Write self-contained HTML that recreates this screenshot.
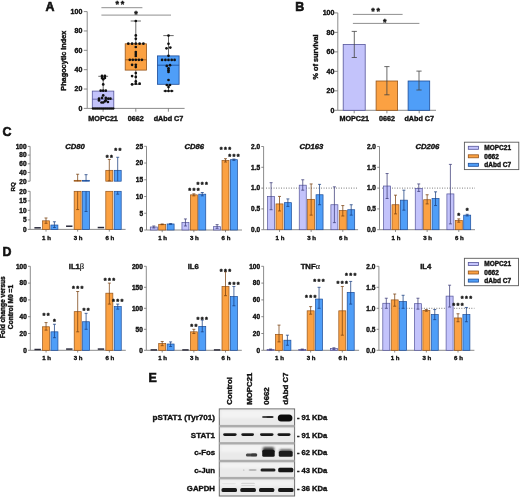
<!DOCTYPE html>
<html><head><meta charset="utf-8"><title>Figure</title>
<style>
html,body{margin:0;padding:0;background:#fff;}
body{width:520px;height:497px;overflow:hidden;}
svg{display:block;font-family:"Liberation Sans", Arial, sans-serif;}
text{stroke:#111;stroke-width:0.38px;}
</style></head><body>
<svg width="520" height="497" viewBox="0 0 520 497">
<rect width="520" height="497" fill="#fff"/>
<text x="45.6" y="10.6" font-size="12.4" text-anchor="start" font-weight="bold" fill="#111" style="stroke-width:0.6px">A</text>
<line x1="87.2" y1="11.6" x2="87.2" y2="108.4" stroke="#6e6e6e" stroke-width="0.8" />
<line x1="87.2" y1="108.4" x2="184.6" y2="108.4" stroke="#6e6e6e" stroke-width="0.8" />
<line x1="83.8" y1="108.4" x2="87.2" y2="108.4" stroke="#6e6e6e" stroke-width="0.8" />
<text x="82.3" y="110.7" font-size="7.0" text-anchor="end" font-weight="bold" fill="#111" >0</text>
<line x1="83.8" y1="89.04" x2="87.2" y2="89.04" stroke="#6e6e6e" stroke-width="0.8" />
<text x="82.3" y="91.34" font-size="7.0" text-anchor="end" font-weight="bold" fill="#111" >20</text>
<line x1="83.8" y1="69.68" x2="87.2" y2="69.68" stroke="#6e6e6e" stroke-width="0.8" />
<text x="82.3" y="71.98" font-size="7.0" text-anchor="end" font-weight="bold" fill="#111" >40</text>
<line x1="83.8" y1="50.32" x2="87.2" y2="50.32" stroke="#6e6e6e" stroke-width="0.8" />
<text x="82.3" y="52.62" font-size="7.0" text-anchor="end" font-weight="bold" fill="#111" >60</text>
<line x1="83.8" y1="30.96" x2="87.2" y2="30.96" stroke="#6e6e6e" stroke-width="0.8" />
<text x="82.3" y="33.26" font-size="7.0" text-anchor="end" font-weight="bold" fill="#111" >80</text>
<line x1="83.8" y1="11.6" x2="87.2" y2="11.6" stroke="#6e6e6e" stroke-width="0.8" />
<text x="82.3" y="13.9" font-size="7.0" text-anchor="end" font-weight="bold" fill="#111" >100</text>
<text transform="translate(66.2,60.7) rotate(-90)" font-size="7.3" text-anchor="middle" font-weight="bold" fill="#111">Phagocytic index</text>
<line x1="103.1" y1="108.4" x2="103.1" y2="111.7" stroke="#6e6e6e" stroke-width="0.8" />
<line x1="135.8" y1="108.4" x2="135.8" y2="111.7" stroke="#6e6e6e" stroke-width="0.8" />
<line x1="168.4" y1="108.4" x2="168.4" y2="111.7" stroke="#6e6e6e" stroke-width="0.8" />
<text x="103.1" y="120.8" font-size="7.2" text-anchor="middle" font-weight="bold" fill="#111" >MOPC21</text>
<text x="135.8" y="120.8" font-size="7.2" text-anchor="middle" font-weight="bold" fill="#111" >0662</text>
<text x="168.5" y="120.8" font-size="7.2" text-anchor="middle" font-weight="bold" fill="#111" >dAbd C7</text>
<line x1="101.4" y1="7.7" x2="142.4" y2="7.7" stroke="#7c7c7c" stroke-width="0.85" />
<line x1="101.4" y1="15.1" x2="171" y2="15.1" stroke="#7c7c7c" stroke-width="0.85" />
<text x="117.3" y="7.26" font-size="9.0" text-anchor="middle" font-weight="bold" fill="#111">*</text>
<text x="122.6" y="7.26" font-size="9.0" text-anchor="middle" font-weight="bold" fill="#111">*</text>
<text x="136.1" y="16.86" font-size="9.0" text-anchor="middle" font-weight="bold" fill="#111">*</text>
<line x1="103.2" y1="76.3" x2="103.2" y2="91.1" stroke="#444" stroke-width="0.8" />
<line x1="103.2" y1="108.4" x2="103.2" y2="108.4" stroke="#444" stroke-width="0.8" />
<line x1="98.3" y1="76.3" x2="108.1" y2="76.3" stroke="#444" stroke-width="0.8" />
<line x1="98.3" y1="108.4" x2="108.1" y2="108.4" stroke="#444" stroke-width="0.8" />
<rect x="92.3" y="91.1" width="21.5" height="17.3" fill="#c3c3fb" stroke="#55559a" stroke-width="0.8" />
<line x1="92.3" y1="99.2" x2="113.8" y2="99.2" stroke="#55559a" stroke-width="0.8" />
<circle cx="102" cy="75.9" r="1.35" fill="#111"/>
<circle cx="104.9" cy="75.9" r="1.35" fill="#111"/>
<circle cx="102" cy="78" r="1.35" fill="#111"/>
<circle cx="104.9" cy="78" r="1.35" fill="#111"/>
<circle cx="103.2" cy="79.3" r="1.35" fill="#111"/>
<circle cx="103.2" cy="84.4" r="1.35" fill="#111"/>
<circle cx="100.7" cy="90.7" r="1.35" fill="#111"/>
<circle cx="103.2" cy="90.7" r="1.35" fill="#111"/>
<circle cx="105.8" cy="90.7" r="1.35" fill="#111"/>
<circle cx="103.2" cy="95.4" r="1.35" fill="#111"/>
<circle cx="99" cy="98.7" r="1.35" fill="#111"/>
<circle cx="99" cy="100.4" r="1.35" fill="#111"/>
<circle cx="102" cy="97.9" r="1.35" fill="#111"/>
<circle cx="105.8" cy="97.9" r="1.35" fill="#111"/>
<circle cx="108.3" cy="98.7" r="1.35" fill="#111"/>
<circle cx="110.4" cy="98.7" r="1.35" fill="#111"/>
<circle cx="104.9" cy="101.3" r="1.35" fill="#111"/>
<circle cx="101.5" cy="102.5" r="1.35" fill="#111"/>
<circle cx="103.2" cy="102.5" r="1.35" fill="#111"/>
<circle cx="107.9" cy="102" r="1.35" fill="#111"/>
<circle cx="105.8" cy="100.4" r="1.35" fill="#111"/>
<circle cx="93.1" cy="108.5" r="1.35" fill="#111"/>
<circle cx="95.1" cy="108.5" r="1.35" fill="#111"/>
<circle cx="97.1" cy="108.5" r="1.35" fill="#111"/>
<circle cx="99.1" cy="108.5" r="1.35" fill="#111"/>
<circle cx="101.1" cy="108.5" r="1.35" fill="#111"/>
<circle cx="103.1" cy="108.5" r="1.35" fill="#111"/>
<circle cx="105.1" cy="108.5" r="1.35" fill="#111"/>
<circle cx="107.1" cy="108.5" r="1.35" fill="#111"/>
<circle cx="109.1" cy="108.5" r="1.35" fill="#111"/>
<circle cx="111.1" cy="108.5" r="1.35" fill="#111"/>
<circle cx="113.1" cy="108.5" r="1.35" fill="#111"/>
<line x1="135.8" y1="21" x2="135.8" y2="43.8" stroke="#444" stroke-width="0.8" />
<line x1="135.8" y1="70.1" x2="135.8" y2="84.3" stroke="#444" stroke-width="0.8" />
<line x1="130.7" y1="21" x2="140.9" y2="21" stroke="#444" stroke-width="0.8" />
<line x1="130.7" y1="84.3" x2="140.9" y2="84.3" stroke="#444" stroke-width="0.8" />
<rect x="125.2" y="43.8" width="21.3" height="26.3" fill="#fba142" stroke="#95541a" stroke-width="0.8" />
<line x1="125.2" y1="59.8" x2="146.5" y2="59.8" stroke="#95541a" stroke-width="0.8" />
<circle cx="135.8" cy="21" r="1.35" fill="#111"/>
<circle cx="135.8" cy="35.4" r="1.35" fill="#111"/>
<circle cx="135.8" cy="38.8" r="1.35" fill="#111"/>
<circle cx="128.3" cy="43.7" r="1.35" fill="#111"/>
<circle cx="132.1" cy="43.7" r="1.35" fill="#111"/>
<circle cx="135.8" cy="43.7" r="1.35" fill="#111"/>
<circle cx="139.6" cy="43.7" r="1.35" fill="#111"/>
<circle cx="143.4" cy="43.7" r="1.35" fill="#111"/>
<circle cx="135.8" cy="47" r="1.35" fill="#111"/>
<circle cx="135.8" cy="52" r="1.35" fill="#111"/>
<circle cx="135.8" cy="54" r="1.35" fill="#111"/>
<circle cx="135.8" cy="56" r="1.35" fill="#111"/>
<circle cx="129.8" cy="59.8" r="1.35" fill="#111"/>
<circle cx="132.8" cy="59.8" r="1.35" fill="#111"/>
<circle cx="135.8" cy="59.8" r="1.35" fill="#111"/>
<circle cx="138.9" cy="59.8" r="1.35" fill="#111"/>
<circle cx="141.9" cy="59.8" r="1.35" fill="#111"/>
<circle cx="132.1" cy="64.8" r="1.35" fill="#111"/>
<circle cx="135.8" cy="64.8" r="1.35" fill="#111"/>
<circle cx="135.8" cy="67.1" r="1.35" fill="#111"/>
<circle cx="135.8" cy="73.1" r="1.35" fill="#111"/>
<circle cx="132.1" cy="76.1" r="1.35" fill="#111"/>
<circle cx="135.8" cy="76.9" r="1.35" fill="#111"/>
<circle cx="135.8" cy="81.4" r="1.35" fill="#111"/>
<circle cx="132.1" cy="84.4" r="1.35" fill="#111"/>
<circle cx="135.8" cy="83.7" r="1.35" fill="#111"/>
<circle cx="139.6" cy="83.7" r="1.35" fill="#111"/>
<line x1="168.5" y1="35.6" x2="168.5" y2="55.9" stroke="#444" stroke-width="0.8" />
<line x1="168.5" y1="84.3" x2="168.5" y2="91" stroke="#444" stroke-width="0.8" />
<line x1="163.3" y1="35.6" x2="173.7" y2="35.6" stroke="#444" stroke-width="0.8" />
<line x1="163.3" y1="91" x2="173.7" y2="91" stroke="#444" stroke-width="0.8" />
<rect x="157.4" y="55.9" width="21.7" height="28.4" fill="#4f9ef8" stroke="#1c4c98" stroke-width="0.8" />
<line x1="157.4" y1="65.2" x2="179.1" y2="65.2" stroke="#1c4c98" stroke-width="0.8" />
<circle cx="168.5" cy="35.6" r="1.35" fill="#111"/>
<circle cx="168.5" cy="43.8" r="1.35" fill="#111"/>
<circle cx="166.5" cy="48.3" r="1.35" fill="#111"/>
<circle cx="170.3" cy="47.6" r="1.35" fill="#111"/>
<circle cx="168.5" cy="55.8" r="1.35" fill="#111"/>
<circle cx="162.1" cy="59.9" r="1.35" fill="#111"/>
<circle cx="165.4" cy="59.9" r="1.35" fill="#111"/>
<circle cx="168.5" cy="59.9" r="1.35" fill="#111"/>
<circle cx="171.7" cy="59.9" r="1.35" fill="#111"/>
<circle cx="174.6" cy="59.9" r="1.35" fill="#111"/>
<circle cx="166.8" cy="65.9" r="1.35" fill="#111"/>
<circle cx="170" cy="65.2" r="1.35" fill="#111"/>
<circle cx="168.5" cy="68.3" r="1.35" fill="#111"/>
<circle cx="168.5" cy="70.2" r="1.35" fill="#111"/>
<circle cx="168.5" cy="71.9" r="1.35" fill="#111"/>
<circle cx="168.5" cy="80" r="1.35" fill="#111"/>
<circle cx="166.8" cy="85" r="1.35" fill="#111"/>
<circle cx="170" cy="85" r="1.35" fill="#111"/>
<circle cx="168.5" cy="87.1" r="1.35" fill="#111"/>
<circle cx="165.4" cy="91" r="1.35" fill="#111"/>
<circle cx="168.5" cy="91" r="1.35" fill="#111"/>
<circle cx="171.7" cy="91" r="1.35" fill="#111"/>
<text x="295.3" y="10.6" font-size="12.4" text-anchor="start" font-weight="bold" fill="#111" style="stroke-width:0.6px">B</text>
<line x1="337.8" y1="12.9" x2="337.8" y2="110.3" stroke="#6e6e6e" stroke-width="0.8" />
<line x1="337.8" y1="110.3" x2="436" y2="110.3" stroke="#6e6e6e" stroke-width="0.8" />
<line x1="334.4" y1="110.3" x2="337.8" y2="110.3" stroke="#6e6e6e" stroke-width="0.8" />
<text x="334.4" y="112.6" font-size="7.0" text-anchor="end" font-weight="bold" fill="#111" >0</text>
<line x1="334.4" y1="90.82" x2="337.8" y2="90.82" stroke="#6e6e6e" stroke-width="0.8" />
<text x="334.4" y="93.12" font-size="7.0" text-anchor="end" font-weight="bold" fill="#111" >20</text>
<line x1="334.4" y1="71.34" x2="337.8" y2="71.34" stroke="#6e6e6e" stroke-width="0.8" />
<text x="334.4" y="73.64" font-size="7.0" text-anchor="end" font-weight="bold" fill="#111" >40</text>
<line x1="334.4" y1="51.86" x2="337.8" y2="51.86" stroke="#6e6e6e" stroke-width="0.8" />
<text x="334.4" y="54.16" font-size="7.0" text-anchor="end" font-weight="bold" fill="#111" >60</text>
<line x1="334.4" y1="32.38" x2="337.8" y2="32.38" stroke="#6e6e6e" stroke-width="0.8" />
<text x="334.4" y="34.68" font-size="7.0" text-anchor="end" font-weight="bold" fill="#111" >80</text>
<line x1="334.4" y1="12.9" x2="337.8" y2="12.9" stroke="#6e6e6e" stroke-width="0.8" />
<text x="334.4" y="15.2" font-size="7.0" text-anchor="end" font-weight="bold" fill="#111" >100</text>
<text transform="translate(318,56.9) rotate(-90)" font-size="7.3" text-anchor="middle" font-weight="bold" fill="#111">% of survival</text>
<line x1="354.2" y1="110.3" x2="354.2" y2="113.3" stroke="#6e6e6e" stroke-width="0.8" />
<line x1="386.9" y1="110.3" x2="386.9" y2="113.3" stroke="#6e6e6e" stroke-width="0.8" />
<line x1="419.2" y1="110.3" x2="419.2" y2="113.3" stroke="#6e6e6e" stroke-width="0.8" />
<text x="354.2" y="121.3" font-size="7.2" text-anchor="middle" font-weight="bold" fill="#111" >MOPC21</text>
<text x="386.9" y="121.3" font-size="7.2" text-anchor="middle" font-weight="bold" fill="#111" >0662</text>
<text x="419.2" y="121.3" font-size="7.2" text-anchor="middle" font-weight="bold" fill="#111" >dAbd C7</text>
<line x1="352.9" y1="14.4" x2="402.6" y2="14.4" stroke="#7c7c7c" stroke-width="0.85" />
<line x1="352.9" y1="23.4" x2="419.4" y2="23.4" stroke="#7c7c7c" stroke-width="0.85" />
<text x="373.1" y="13.76" font-size="9.0" text-anchor="middle" font-weight="bold" fill="#111">*</text>
<text x="378.3" y="13.76" font-size="9.0" text-anchor="middle" font-weight="bold" fill="#111">*</text>
<text x="384.8" y="24.76" font-size="9.0" text-anchor="middle" font-weight="bold" fill="#111">*</text>
<rect x="343.2" y="44.4" width="22" height="65.9" fill="#c3c3fb" stroke="#55559a" stroke-width="0.8" />
<line x1="354.3" y1="31.4" x2="354.3" y2="57.5" stroke="#444" stroke-width="0.8" />
<line x1="351.7" y1="31.4" x2="356.9" y2="31.4" stroke="#444" stroke-width="0.8" />
<line x1="351.7" y1="57.5" x2="356.9" y2="57.5" stroke="#444" stroke-width="0.8" />
<rect x="376.1" y="81" width="21.5" height="29.3" fill="#fba142" stroke="#95541a" stroke-width="0.8" />
<line x1="386.9" y1="66.6" x2="386.9" y2="94.8" stroke="#444" stroke-width="0.8" />
<line x1="384.3" y1="66.6" x2="389.5" y2="66.6" stroke="#444" stroke-width="0.8" />
<line x1="384.3" y1="94.8" x2="389.5" y2="94.8" stroke="#444" stroke-width="0.8" />
<rect x="408.1" y="81" width="21.6" height="29.3" fill="#4f9ef8" stroke="#1c4c98" stroke-width="0.8" />
<line x1="419" y1="71.1" x2="419" y2="90" stroke="#444" stroke-width="0.8" />
<line x1="416.4" y1="71.1" x2="421.6" y2="71.1" stroke="#444" stroke-width="0.8" />
<line x1="416.4" y1="90" x2="421.6" y2="90" stroke="#444" stroke-width="0.8" />
<text x="2.4" y="136.3" font-size="12.4" text-anchor="start" font-weight="bold" fill="#111" style="stroke-width:0.6px">C</text>
<text transform="translate(15.2,186.8) rotate(-90)" font-size="6.2" text-anchor="middle" font-weight="bold" fill="#111">RQ</text>
<line x1="30.1" y1="146.4" x2="30.1" y2="181.2" stroke="#6e6e6e" stroke-width="0.8" />
<line x1="30.1" y1="191.3" x2="30.1" y2="229.4" stroke="#6e6e6e" stroke-width="0.8" />
<line x1="30.1" y1="229.4" x2="125.6" y2="229.4" stroke="#6e6e6e" stroke-width="0.8" />
<line x1="27.8" y1="229.4" x2="30.1" y2="229.4" stroke="#6e6e6e" stroke-width="0.8" />
<text x="26.6" y="231.7" font-size="6.5" text-anchor="end" font-weight="bold" fill="#111" >0</text>
<line x1="27.8" y1="219.88" x2="30.1" y2="219.88" stroke="#6e6e6e" stroke-width="0.8" />
<text x="26.6" y="222.18" font-size="6.5" text-anchor="end" font-weight="bold" fill="#111" >5</text>
<line x1="27.8" y1="210.35" x2="30.1" y2="210.35" stroke="#6e6e6e" stroke-width="0.8" />
<text x="26.6" y="212.65" font-size="6.5" text-anchor="end" font-weight="bold" fill="#111" >10</text>
<line x1="27.8" y1="200.83" x2="30.1" y2="200.83" stroke="#6e6e6e" stroke-width="0.8" />
<text x="26.6" y="203.13" font-size="6.5" text-anchor="end" font-weight="bold" fill="#111" >15</text>
<line x1="27.8" y1="191.3" x2="30.1" y2="191.3" stroke="#6e6e6e" stroke-width="0.8" />
<text x="26.6" y="193.6" font-size="6.5" text-anchor="end" font-weight="bold" fill="#111" >20</text>
<line x1="46" y1="229.4" x2="46" y2="231.6" stroke="#6e6e6e" stroke-width="0.8" />
<text x="46.5" y="239.7" font-size="6.1" text-anchor="middle" font-weight="bold" fill="#111" >1 h</text>
<rect x="34.4" y="227.08" width="6.4" height="1.5" fill="#2a2a3a" />
<rect x="42.5" y="220.83" width="7" height="8.57" fill="#fba142" stroke="#95541a" stroke-width="0.7" />
<line x1="46" y1="223.3" x2="46" y2="217.97" stroke="#7a4210" stroke-width="0.75" />
<line x1="44.5" y1="217.97" x2="47.5" y2="217.97" stroke="#7a4210" stroke-width="0.75" />
<line x1="44.5" y1="223.3" x2="47.5" y2="223.3" stroke="#7a4210" stroke-width="0.75" />
<rect x="50.9" y="225.02" width="7" height="4.38" fill="#4f9ef8" stroke="#1c4c98" stroke-width="0.7" />
<line x1="54.4" y1="227.5" x2="54.4" y2="221.78" stroke="#1a3f80" stroke-width="0.75" />
<line x1="52.9" y1="221.78" x2="55.9" y2="221.78" stroke="#1a3f80" stroke-width="0.75" />
<line x1="52.9" y1="227.5" x2="55.9" y2="227.5" stroke="#1a3f80" stroke-width="0.75" />
<line x1="77.65" y1="229.4" x2="77.65" y2="231.6" stroke="#6e6e6e" stroke-width="0.8" />
<text x="78.15" y="239.7" font-size="6.1" text-anchor="middle" font-weight="bold" fill="#111" >3 h</text>
<rect x="66.05" y="225.46" width="6.4" height="1.5" fill="#2a2a3a" />
<rect x="74.15" y="191.3" width="7" height="38.1" fill="#fba142" stroke="#95541a" stroke-width="0.7" />
<rect x="74.15" y="180.33" width="7" height="0.87" fill="#fba142" stroke="#95541a" stroke-width="0.7" />
<line x1="77.65" y1="209.59" x2="77.65" y2="191.3" stroke="#7a4210" stroke-width="0.75" />
<line x1="77.65" y1="181.2" x2="77.65" y2="174.24" stroke="#7a4210" stroke-width="0.75" />
<line x1="76.15" y1="174.24" x2="79.15" y2="174.24" stroke="#7a4210" stroke-width="0.75" />
<line x1="76.15" y1="209.59" x2="79.15" y2="209.59" stroke="#7a4210" stroke-width="0.75" />
<rect x="82.55" y="191.3" width="7" height="38.1" fill="#4f9ef8" stroke="#1c4c98" stroke-width="0.7" />
<rect x="82.55" y="180.33" width="7" height="0.87" fill="#4f9ef8" stroke="#1c4c98" stroke-width="0.7" />
<line x1="86.05" y1="211.49" x2="86.05" y2="191.3" stroke="#1a3f80" stroke-width="0.75" />
<line x1="86.05" y1="181.2" x2="86.05" y2="174.67" stroke="#1a3f80" stroke-width="0.75" />
<line x1="84.55" y1="174.67" x2="87.55" y2="174.67" stroke="#1a3f80" stroke-width="0.75" />
<line x1="84.55" y1="211.49" x2="87.55" y2="211.49" stroke="#1a3f80" stroke-width="0.75" />
<line x1="109.3" y1="229.4" x2="109.3" y2="231.6" stroke="#6e6e6e" stroke-width="0.8" />
<text x="109.8" y="239.7" font-size="6.1" text-anchor="middle" font-weight="bold" fill="#111" >6 h</text>
<rect x="97.7" y="226.8" width="6.4" height="1.5" fill="#2a2a3a" />
<rect x="105.8" y="191.3" width="7" height="38.1" fill="#fba142" stroke="#95541a" stroke-width="0.7" />
<rect x="105.8" y="170.32" width="7" height="10.87" fill="#fba142" stroke="#95541a" stroke-width="0.7" />
<line x1="109.3" y1="180.76" x2="109.3" y2="159.45" stroke="#7a4210" stroke-width="0.75" />
<line x1="107.8" y1="159.45" x2="110.8" y2="159.45" stroke="#7a4210" stroke-width="0.75" />
<line x1="107.8" y1="180.76" x2="110.8" y2="180.76" stroke="#7a4210" stroke-width="0.75" />
<rect x="114.2" y="191.3" width="7" height="38.1" fill="#4f9ef8" stroke="#1c4c98" stroke-width="0.7" />
<rect x="114.2" y="170.32" width="7" height="10.87" fill="#4f9ef8" stroke="#1c4c98" stroke-width="0.7" />
<line x1="117.7" y1="194.16" x2="117.7" y2="191.3" stroke="#1a3f80" stroke-width="0.75" />
<line x1="117.7" y1="181.2" x2="117.7" y2="157.28" stroke="#1a3f80" stroke-width="0.75" />
<line x1="116.2" y1="157.28" x2="119.2" y2="157.28" stroke="#1a3f80" stroke-width="0.75" />
<line x1="116.2" y1="194.16" x2="119.2" y2="194.16" stroke="#1a3f80" stroke-width="0.75" />
<text x="107.17" y="159.75" font-size="7.4" text-anchor="middle" font-weight="bold" fill="#111">*</text>
<text x="111.42" y="159.75" font-size="7.4" text-anchor="middle" font-weight="bold" fill="#111">*</text>
<text x="115.58" y="153.25" font-size="7.4" text-anchor="middle" font-weight="bold" fill="#111">*</text>
<text x="119.83" y="153.25" font-size="7.4" text-anchor="middle" font-weight="bold" fill="#111">*</text>
<text x="75" y="148.6" font-size="7.7" text-anchor="middle" font-weight="bold" font-style="italic" fill="#111" >CD80</text>
<line x1="27.8" y1="181.2" x2="30.1" y2="181.2" stroke="#6e6e6e" stroke-width="0.8" />
<text x="26.6" y="183.5" font-size="6.5" text-anchor="end" font-weight="bold" fill="#111" >20</text>
<line x1="27.8" y1="172.5" x2="30.1" y2="172.5" stroke="#6e6e6e" stroke-width="0.8" />
<text x="26.6" y="174.8" font-size="6.5" text-anchor="end" font-weight="bold" fill="#111" >40</text>
<line x1="27.8" y1="163.8" x2="30.1" y2="163.8" stroke="#6e6e6e" stroke-width="0.8" />
<text x="26.6" y="166.1" font-size="6.5" text-anchor="end" font-weight="bold" fill="#111" >60</text>
<line x1="27.8" y1="155.1" x2="30.1" y2="155.1" stroke="#6e6e6e" stroke-width="0.8" />
<text x="26.6" y="157.4" font-size="6.5" text-anchor="end" font-weight="bold" fill="#111" >80</text>
<line x1="27.8" y1="146.4" x2="30.1" y2="146.4" stroke="#6e6e6e" stroke-width="0.8" />
<text x="26.6" y="148.7" font-size="6.5" text-anchor="end" font-weight="bold" fill="#111" >100</text>
<line x1="146.5" y1="146.3" x2="146.5" y2="230" stroke="#6e6e6e" stroke-width="0.8" />
<line x1="146.5" y1="230" x2="242" y2="230" stroke="#6e6e6e" stroke-width="0.8" />
<line x1="144.2" y1="230" x2="146.5" y2="230" stroke="#6e6e6e" stroke-width="0.8" />
<text x="143" y="232.3" font-size="6.5" text-anchor="end" font-weight="bold" fill="#111" >0</text>
<line x1="144.2" y1="213.26" x2="146.5" y2="213.26" stroke="#6e6e6e" stroke-width="0.8" />
<text x="143" y="215.56" font-size="6.5" text-anchor="end" font-weight="bold" fill="#111" >5</text>
<line x1="144.2" y1="196.52" x2="146.5" y2="196.52" stroke="#6e6e6e" stroke-width="0.8" />
<text x="143" y="198.82" font-size="6.5" text-anchor="end" font-weight="bold" fill="#111" >10</text>
<line x1="144.2" y1="179.78" x2="146.5" y2="179.78" stroke="#6e6e6e" stroke-width="0.8" />
<text x="143" y="182.08" font-size="6.5" text-anchor="end" font-weight="bold" fill="#111" >15</text>
<line x1="144.2" y1="163.04" x2="146.5" y2="163.04" stroke="#6e6e6e" stroke-width="0.8" />
<text x="143" y="165.34" font-size="6.5" text-anchor="end" font-weight="bold" fill="#111" >20</text>
<line x1="144.2" y1="146.3" x2="146.5" y2="146.3" stroke="#6e6e6e" stroke-width="0.8" />
<text x="143" y="148.6" font-size="6.5" text-anchor="end" font-weight="bold" fill="#111" >25</text>
<line x1="162.2" y1="230" x2="162.2" y2="232.2" stroke="#6e6e6e" stroke-width="0.8" />
<text x="162.7" y="239.7" font-size="6.1" text-anchor="middle" font-weight="bold" fill="#111" >1 h</text>
<rect x="150.3" y="226.99" width="7" height="3.01" fill="#c3c3fb" stroke="#55559a" stroke-width="0.7" />
<line x1="153.8" y1="227.99" x2="153.8" y2="225.98" stroke="#3c3c78" stroke-width="0.75" />
<line x1="152.3" y1="225.98" x2="155.3" y2="225.98" stroke="#3c3c78" stroke-width="0.75" />
<line x1="152.3" y1="227.99" x2="155.3" y2="227.99" stroke="#3c3c78" stroke-width="0.75" />
<rect x="158.7" y="224.31" width="7" height="5.69" fill="#fba142" stroke="#95541a" stroke-width="0.7" />
<line x1="162.2" y1="224.64" x2="162.2" y2="223.97" stroke="#7a4210" stroke-width="0.75" />
<line x1="160.7" y1="223.97" x2="163.7" y2="223.97" stroke="#7a4210" stroke-width="0.75" />
<line x1="160.7" y1="224.64" x2="163.7" y2="224.64" stroke="#7a4210" stroke-width="0.75" />
<rect x="167.1" y="223.97" width="7" height="6.03" fill="#4f9ef8" stroke="#1c4c98" stroke-width="0.7" />
<line x1="170.6" y1="224.31" x2="170.6" y2="223.64" stroke="#1a3f80" stroke-width="0.75" />
<line x1="169.1" y1="223.64" x2="172.1" y2="223.64" stroke="#1a3f80" stroke-width="0.75" />
<line x1="169.1" y1="224.31" x2="172.1" y2="224.31" stroke="#1a3f80" stroke-width="0.75" />
<line x1="193.85" y1="230" x2="193.85" y2="232.2" stroke="#6e6e6e" stroke-width="0.8" />
<text x="194.35" y="239.7" font-size="6.1" text-anchor="middle" font-weight="bold" fill="#111" >3 h</text>
<rect x="181.95" y="222.63" width="7" height="7.37" fill="#c3c3fb" stroke="#55559a" stroke-width="0.7" />
<line x1="185.45" y1="225.98" x2="185.45" y2="218.95" stroke="#3c3c78" stroke-width="0.75" />
<line x1="183.95" y1="218.95" x2="186.95" y2="218.95" stroke="#3c3c78" stroke-width="0.75" />
<line x1="183.95" y1="225.98" x2="186.95" y2="225.98" stroke="#3c3c78" stroke-width="0.75" />
<rect x="190.35" y="194.85" width="7" height="35.15" fill="#fba142" stroke="#95541a" stroke-width="0.7" />
<line x1="193.85" y1="195.85" x2="193.85" y2="193.84" stroke="#7a4210" stroke-width="0.75" />
<line x1="192.35" y1="193.84" x2="195.35" y2="193.84" stroke="#7a4210" stroke-width="0.75" />
<line x1="192.35" y1="195.85" x2="195.35" y2="195.85" stroke="#7a4210" stroke-width="0.75" />
<rect x="198.75" y="194.18" width="7" height="35.82" fill="#4f9ef8" stroke="#1c4c98" stroke-width="0.7" />
<line x1="202.25" y1="195.85" x2="202.25" y2="192.5" stroke="#1a3f80" stroke-width="0.75" />
<line x1="200.75" y1="192.5" x2="203.75" y2="192.5" stroke="#1a3f80" stroke-width="0.75" />
<line x1="200.75" y1="195.85" x2="203.75" y2="195.85" stroke="#1a3f80" stroke-width="0.75" />
<line x1="225.5" y1="230" x2="225.5" y2="232.2" stroke="#6e6e6e" stroke-width="0.8" />
<text x="226" y="239.7" font-size="6.1" text-anchor="middle" font-weight="bold" fill="#111" >6 h</text>
<rect x="213.6" y="226.65" width="7" height="3.35" fill="#c3c3fb" stroke="#55559a" stroke-width="0.7" />
<line x1="217.1" y1="228.33" x2="217.1" y2="224.64" stroke="#3c3c78" stroke-width="0.75" />
<line x1="215.6" y1="224.64" x2="218.6" y2="224.64" stroke="#3c3c78" stroke-width="0.75" />
<line x1="215.6" y1="228.33" x2="218.6" y2="228.33" stroke="#3c3c78" stroke-width="0.75" />
<rect x="222" y="160.36" width="7" height="69.64" fill="#fba142" stroke="#95541a" stroke-width="0.7" />
<line x1="225.5" y1="162.04" x2="225.5" y2="158.69" stroke="#7a4210" stroke-width="0.75" />
<line x1="224" y1="158.69" x2="227" y2="158.69" stroke="#7a4210" stroke-width="0.75" />
<line x1="224" y1="162.04" x2="227" y2="162.04" stroke="#7a4210" stroke-width="0.75" />
<rect x="230.4" y="159.69" width="7" height="70.31" fill="#4f9ef8" stroke="#1c4c98" stroke-width="0.7" />
<line x1="233.9" y1="160.36" x2="233.9" y2="159.02" stroke="#1a3f80" stroke-width="0.75" />
<line x1="232.4" y1="159.02" x2="235.4" y2="159.02" stroke="#1a3f80" stroke-width="0.75" />
<line x1="232.4" y1="160.36" x2="235.4" y2="160.36" stroke="#1a3f80" stroke-width="0.75" />
<text x="189.6" y="193.45" font-size="7.4" text-anchor="middle" font-weight="bold" fill="#111">*</text>
<text x="193.85" y="193.45" font-size="7.4" text-anchor="middle" font-weight="bold" fill="#111">*</text>
<text x="198.1" y="193.45" font-size="7.4" text-anchor="middle" font-weight="bold" fill="#111">*</text>
<text x="198" y="187.45" font-size="7.4" text-anchor="middle" font-weight="bold" fill="#111">*</text>
<text x="202.25" y="187.45" font-size="7.4" text-anchor="middle" font-weight="bold" fill="#111">*</text>
<text x="206.5" y="187.45" font-size="7.4" text-anchor="middle" font-weight="bold" fill="#111">*</text>
<text x="221.25" y="152.35" font-size="7.4" text-anchor="middle" font-weight="bold" fill="#111">*</text>
<text x="225.5" y="152.35" font-size="7.4" text-anchor="middle" font-weight="bold" fill="#111">*</text>
<text x="229.75" y="152.35" font-size="7.4" text-anchor="middle" font-weight="bold" fill="#111">*</text>
<text x="229.65" y="158.65" font-size="7.4" text-anchor="middle" font-weight="bold" fill="#111">*</text>
<text x="233.9" y="158.65" font-size="7.4" text-anchor="middle" font-weight="bold" fill="#111">*</text>
<text x="238.15" y="158.65" font-size="7.4" text-anchor="middle" font-weight="bold" fill="#111">*</text>
<text x="194.3" y="148.6" font-size="7.7" text-anchor="middle" font-weight="bold" font-style="italic" fill="#111" >CD86</text>
<line x1="263.6" y1="146.5" x2="263.6" y2="229.7" stroke="#6e6e6e" stroke-width="0.8" />
<line x1="263.6" y1="229.7" x2="358.1" y2="229.7" stroke="#6e6e6e" stroke-width="0.8" />
<line x1="261.3" y1="229.7" x2="263.6" y2="229.7" stroke="#6e6e6e" stroke-width="0.8" />
<text x="260.1" y="232" font-size="6.5" text-anchor="end" font-weight="bold" fill="#111" >0.0</text>
<line x1="261.3" y1="208.9" x2="263.6" y2="208.9" stroke="#6e6e6e" stroke-width="0.8" />
<text x="260.1" y="211.2" font-size="6.5" text-anchor="end" font-weight="bold" fill="#111" >0.5</text>
<line x1="261.3" y1="188.1" x2="263.6" y2="188.1" stroke="#6e6e6e" stroke-width="0.8" />
<text x="260.1" y="190.4" font-size="6.5" text-anchor="end" font-weight="bold" fill="#111" >1.0</text>
<line x1="261.3" y1="167.3" x2="263.6" y2="167.3" stroke="#6e6e6e" stroke-width="0.8" />
<text x="260.1" y="169.6" font-size="6.5" text-anchor="end" font-weight="bold" fill="#111" >1.5</text>
<line x1="261.3" y1="146.5" x2="263.6" y2="146.5" stroke="#6e6e6e" stroke-width="0.8" />
<text x="260.1" y="148.8" font-size="6.5" text-anchor="end" font-weight="bold" fill="#111" >2.0</text>
<line x1="266.1" y1="188.1" x2="358.1" y2="188.1" stroke="#4a4a4a" stroke-width="0.8" stroke-dasharray="0.9 1.6"/>
<line x1="279.5" y1="229.7" x2="279.5" y2="231.9" stroke="#6e6e6e" stroke-width="0.8" />
<text x="280" y="239.7" font-size="6.1" text-anchor="middle" font-weight="bold" fill="#111" >1 h</text>
<rect x="267.6" y="196.42" width="7" height="33.28" fill="#c3c3fb" stroke="#55559a" stroke-width="0.7" />
<line x1="271.1" y1="209.73" x2="271.1" y2="182.69" stroke="#3c3c78" stroke-width="0.75" />
<line x1="269.6" y1="182.69" x2="272.6" y2="182.69" stroke="#3c3c78" stroke-width="0.75" />
<line x1="269.6" y1="209.73" x2="272.6" y2="209.73" stroke="#3c3c78" stroke-width="0.75" />
<rect x="276" y="203.91" width="7" height="25.79" fill="#fba142" stroke="#95541a" stroke-width="0.7" />
<line x1="279.5" y1="210.98" x2="279.5" y2="196.42" stroke="#7a4210" stroke-width="0.75" />
<line x1="278" y1="196.42" x2="281" y2="196.42" stroke="#7a4210" stroke-width="0.75" />
<line x1="278" y1="210.98" x2="281" y2="210.98" stroke="#7a4210" stroke-width="0.75" />
<rect x="284.4" y="202.66" width="7" height="27.04" fill="#4f9ef8" stroke="#1c4c98" stroke-width="0.7" />
<line x1="287.9" y1="206.4" x2="287.9" y2="198.92" stroke="#1a3f80" stroke-width="0.75" />
<line x1="286.4" y1="198.92" x2="289.4" y2="198.92" stroke="#1a3f80" stroke-width="0.75" />
<line x1="286.4" y1="206.4" x2="289.4" y2="206.4" stroke="#1a3f80" stroke-width="0.75" />
<line x1="311.15" y1="229.7" x2="311.15" y2="231.9" stroke="#6e6e6e" stroke-width="0.8" />
<text x="311.65" y="239.7" font-size="6.1" text-anchor="middle" font-weight="bold" fill="#111" >3 h</text>
<rect x="299.25" y="185.19" width="7" height="44.51" fill="#c3c3fb" stroke="#55559a" stroke-width="0.7" />
<line x1="302.75" y1="190.18" x2="302.75" y2="179.78" stroke="#3c3c78" stroke-width="0.75" />
<line x1="301.25" y1="179.78" x2="304.25" y2="179.78" stroke="#3c3c78" stroke-width="0.75" />
<line x1="301.25" y1="190.18" x2="304.25" y2="190.18" stroke="#3c3c78" stroke-width="0.75" />
<rect x="307.65" y="199.33" width="7" height="30.37" fill="#fba142" stroke="#95541a" stroke-width="0.7" />
<line x1="311.15" y1="215.14" x2="311.15" y2="183.94" stroke="#7a4210" stroke-width="0.75" />
<line x1="309.65" y1="183.94" x2="312.65" y2="183.94" stroke="#7a4210" stroke-width="0.75" />
<line x1="309.65" y1="215.14" x2="312.65" y2="215.14" stroke="#7a4210" stroke-width="0.75" />
<rect x="316.05" y="194.76" width="7" height="34.94" fill="#4f9ef8" stroke="#1c4c98" stroke-width="0.7" />
<line x1="319.55" y1="204.74" x2="319.55" y2="184.36" stroke="#1a3f80" stroke-width="0.75" />
<line x1="318.05" y1="184.36" x2="321.05" y2="184.36" stroke="#1a3f80" stroke-width="0.75" />
<line x1="318.05" y1="204.74" x2="321.05" y2="204.74" stroke="#1a3f80" stroke-width="0.75" />
<line x1="342.8" y1="229.7" x2="342.8" y2="231.9" stroke="#6e6e6e" stroke-width="0.8" />
<text x="343.3" y="239.7" font-size="6.1" text-anchor="middle" font-weight="bold" fill="#111" >6 h</text>
<rect x="330.9" y="204.74" width="7" height="24.96" fill="#c3c3fb" stroke="#55559a" stroke-width="0.7" />
<line x1="334.4" y1="222.63" x2="334.4" y2="186.85" stroke="#3c3c78" stroke-width="0.75" />
<line x1="332.9" y1="186.85" x2="335.9" y2="186.85" stroke="#3c3c78" stroke-width="0.75" />
<line x1="332.9" y1="222.63" x2="335.9" y2="222.63" stroke="#3c3c78" stroke-width="0.75" />
<rect x="339.3" y="210.56" width="7" height="19.14" fill="#fba142" stroke="#95541a" stroke-width="0.7" />
<line x1="342.8" y1="215.97" x2="342.8" y2="205.57" stroke="#7a4210" stroke-width="0.75" />
<line x1="341.3" y1="205.57" x2="344.3" y2="205.57" stroke="#7a4210" stroke-width="0.75" />
<line x1="341.3" y1="215.97" x2="344.3" y2="215.97" stroke="#7a4210" stroke-width="0.75" />
<rect x="347.7" y="209.73" width="7" height="19.97" fill="#4f9ef8" stroke="#1c4c98" stroke-width="0.7" />
<line x1="351.2" y1="215.14" x2="351.2" y2="204.74" stroke="#1a3f80" stroke-width="0.75" />
<line x1="349.7" y1="204.74" x2="352.7" y2="204.74" stroke="#1a3f80" stroke-width="0.75" />
<line x1="349.7" y1="215.14" x2="352.7" y2="215.14" stroke="#1a3f80" stroke-width="0.75" />
<text x="311.35" y="148.6" font-size="7.7" text-anchor="middle" font-weight="bold" font-style="italic" fill="#111" >CD163</text>
<line x1="379.5" y1="146.5" x2="379.5" y2="229.7" stroke="#6e6e6e" stroke-width="0.8" />
<line x1="379.5" y1="229.7" x2="475" y2="229.7" stroke="#6e6e6e" stroke-width="0.8" />
<line x1="377.2" y1="229.7" x2="379.5" y2="229.7" stroke="#6e6e6e" stroke-width="0.8" />
<text x="376" y="232" font-size="6.5" text-anchor="end" font-weight="bold" fill="#111" >0.0</text>
<line x1="377.2" y1="208.9" x2="379.5" y2="208.9" stroke="#6e6e6e" stroke-width="0.8" />
<text x="376" y="211.2" font-size="6.5" text-anchor="end" font-weight="bold" fill="#111" >0.5</text>
<line x1="377.2" y1="188.1" x2="379.5" y2="188.1" stroke="#6e6e6e" stroke-width="0.8" />
<text x="376" y="190.4" font-size="6.5" text-anchor="end" font-weight="bold" fill="#111" >1.0</text>
<line x1="377.2" y1="167.3" x2="379.5" y2="167.3" stroke="#6e6e6e" stroke-width="0.8" />
<text x="376" y="169.6" font-size="6.5" text-anchor="end" font-weight="bold" fill="#111" >1.5</text>
<line x1="377.2" y1="146.5" x2="379.5" y2="146.5" stroke="#6e6e6e" stroke-width="0.8" />
<text x="376" y="148.8" font-size="6.5" text-anchor="end" font-weight="bold" fill="#111" >2.0</text>
<line x1="382" y1="188.1" x2="475" y2="188.1" stroke="#4a4a4a" stroke-width="0.8" stroke-dasharray="0.9 1.6"/>
<line x1="395.5" y1="229.7" x2="395.5" y2="231.9" stroke="#6e6e6e" stroke-width="0.8" />
<text x="396" y="239.7" font-size="6.1" text-anchor="middle" font-weight="bold" fill="#111" >1 h</text>
<rect x="383.6" y="186.02" width="7" height="43.68" fill="#c3c3fb" stroke="#55559a" stroke-width="0.7" />
<line x1="387.1" y1="198.5" x2="387.1" y2="173.54" stroke="#3c3c78" stroke-width="0.75" />
<line x1="385.6" y1="173.54" x2="388.6" y2="173.54" stroke="#3c3c78" stroke-width="0.75" />
<line x1="385.6" y1="198.5" x2="388.6" y2="198.5" stroke="#3c3c78" stroke-width="0.75" />
<rect x="392" y="204.74" width="7" height="24.96" fill="#fba142" stroke="#95541a" stroke-width="0.7" />
<line x1="395.5" y1="213.89" x2="395.5" y2="195.17" stroke="#7a4210" stroke-width="0.75" />
<line x1="394" y1="195.17" x2="397" y2="195.17" stroke="#7a4210" stroke-width="0.75" />
<line x1="394" y1="213.89" x2="397" y2="213.89" stroke="#7a4210" stroke-width="0.75" />
<rect x="400.4" y="200.16" width="7" height="29.54" fill="#4f9ef8" stroke="#1c4c98" stroke-width="0.7" />
<line x1="403.9" y1="210.15" x2="403.9" y2="190.18" stroke="#1a3f80" stroke-width="0.75" />
<line x1="402.4" y1="190.18" x2="405.4" y2="190.18" stroke="#1a3f80" stroke-width="0.75" />
<line x1="402.4" y1="210.15" x2="405.4" y2="210.15" stroke="#1a3f80" stroke-width="0.75" />
<line x1="427.15" y1="229.7" x2="427.15" y2="231.9" stroke="#6e6e6e" stroke-width="0.8" />
<text x="427.65" y="239.7" font-size="6.1" text-anchor="middle" font-weight="bold" fill="#111" >3 h</text>
<rect x="415.25" y="188.52" width="7" height="41.18" fill="#c3c3fb" stroke="#55559a" stroke-width="0.7" />
<line x1="418.75" y1="191.43" x2="418.75" y2="183.94" stroke="#3c3c78" stroke-width="0.75" />
<line x1="417.25" y1="183.94" x2="420.25" y2="183.94" stroke="#3c3c78" stroke-width="0.75" />
<line x1="417.25" y1="191.43" x2="420.25" y2="191.43" stroke="#3c3c78" stroke-width="0.75" />
<rect x="423.65" y="199.75" width="7" height="29.95" fill="#fba142" stroke="#95541a" stroke-width="0.7" />
<line x1="427.15" y1="203.91" x2="427.15" y2="194.76" stroke="#7a4210" stroke-width="0.75" />
<line x1="425.65" y1="194.76" x2="428.65" y2="194.76" stroke="#7a4210" stroke-width="0.75" />
<line x1="425.65" y1="203.91" x2="428.65" y2="203.91" stroke="#7a4210" stroke-width="0.75" />
<rect x="432.05" y="198.5" width="7" height="31.2" fill="#4f9ef8" stroke="#1c4c98" stroke-width="0.7" />
<line x1="435.55" y1="205.57" x2="435.55" y2="191.84" stroke="#1a3f80" stroke-width="0.75" />
<line x1="434.05" y1="191.84" x2="437.05" y2="191.84" stroke="#1a3f80" stroke-width="0.75" />
<line x1="434.05" y1="205.57" x2="437.05" y2="205.57" stroke="#1a3f80" stroke-width="0.75" />
<line x1="458.8" y1="229.7" x2="458.8" y2="231.9" stroke="#6e6e6e" stroke-width="0.8" />
<text x="459.3" y="239.7" font-size="6.1" text-anchor="middle" font-weight="bold" fill="#111" >6 h</text>
<rect x="446.9" y="193.92" width="7" height="35.78" fill="#c3c3fb" stroke="#55559a" stroke-width="0.7" />
<line x1="450.4" y1="223.88" x2="450.4" y2="164.39" stroke="#3c3c78" stroke-width="0.75" />
<line x1="448.9" y1="164.39" x2="451.9" y2="164.39" stroke="#3c3c78" stroke-width="0.75" />
<line x1="448.9" y1="223.88" x2="451.9" y2="223.88" stroke="#3c3c78" stroke-width="0.75" />
<rect x="455.3" y="220.55" width="7" height="9.15" fill="#fba142" stroke="#95541a" stroke-width="0.7" />
<line x1="458.8" y1="222.21" x2="458.8" y2="218.88" stroke="#7a4210" stroke-width="0.75" />
<line x1="457.3" y1="218.88" x2="460.3" y2="218.88" stroke="#7a4210" stroke-width="0.75" />
<line x1="457.3" y1="222.21" x2="460.3" y2="222.21" stroke="#7a4210" stroke-width="0.75" />
<rect x="463.7" y="215.14" width="7" height="14.56" fill="#4f9ef8" stroke="#1c4c98" stroke-width="0.7" />
<line x1="467.2" y1="215.97" x2="467.2" y2="214.31" stroke="#1a3f80" stroke-width="0.75" />
<line x1="465.7" y1="214.31" x2="468.7" y2="214.31" stroke="#1a3f80" stroke-width="0.75" />
<line x1="465.7" y1="215.97" x2="468.7" y2="215.97" stroke="#1a3f80" stroke-width="0.75" />
<text x="458.8" y="217.95" font-size="7.4" text-anchor="middle" font-weight="bold" fill="#111">*</text>
<text x="467.2" y="213.25" font-size="7.4" text-anchor="middle" font-weight="bold" fill="#111">*</text>
<text x="427.35" y="148.6" font-size="7.7" text-anchor="middle" font-weight="bold" font-style="italic" fill="#111" >CD206</text>
<text x="2.4" y="255.8" font-size="12.4" text-anchor="start" font-weight="bold" fill="#111" style="stroke-width:0.6px">D</text>
<text transform="translate(5.4,307.2) rotate(-90)" font-size="6.6" text-anchor="middle" font-weight="bold" fill="#111">Fold change versus</text>
<text transform="translate(12.6,307) rotate(-90)" font-size="6.7" text-anchor="middle" font-weight="bold" fill="#111">Control M0 =1</text>
<line x1="30.3" y1="266.3" x2="30.3" y2="350.3" stroke="#6e6e6e" stroke-width="0.8" />
<line x1="30.3" y1="350.3" x2="125.8" y2="350.3" stroke="#6e6e6e" stroke-width="0.8" />
<line x1="28" y1="350.3" x2="30.3" y2="350.3" stroke="#6e6e6e" stroke-width="0.8" />
<text x="26.8" y="352.6" font-size="6.5" text-anchor="end" font-weight="bold" fill="#111" >0</text>
<line x1="28" y1="333.5" x2="30.3" y2="333.5" stroke="#6e6e6e" stroke-width="0.8" />
<text x="26.8" y="335.8" font-size="6.5" text-anchor="end" font-weight="bold" fill="#111" >20</text>
<line x1="28" y1="316.7" x2="30.3" y2="316.7" stroke="#6e6e6e" stroke-width="0.8" />
<text x="26.8" y="319" font-size="6.5" text-anchor="end" font-weight="bold" fill="#111" >40</text>
<line x1="28" y1="299.9" x2="30.3" y2="299.9" stroke="#6e6e6e" stroke-width="0.8" />
<text x="26.8" y="302.2" font-size="6.5" text-anchor="end" font-weight="bold" fill="#111" >60</text>
<line x1="28" y1="283.1" x2="30.3" y2="283.1" stroke="#6e6e6e" stroke-width="0.8" />
<text x="26.8" y="285.4" font-size="6.5" text-anchor="end" font-weight="bold" fill="#111" >80</text>
<line x1="28" y1="266.3" x2="30.3" y2="266.3" stroke="#6e6e6e" stroke-width="0.8" />
<text x="26.8" y="268.6" font-size="6.5" text-anchor="end" font-weight="bold" fill="#111" >100</text>
<line x1="46.05" y1="350.3" x2="46.05" y2="352.5" stroke="#6e6e6e" stroke-width="0.8" />
<text x="46.55" y="360" font-size="6.1" text-anchor="middle" font-weight="bold" fill="#111" >1 h</text>
<rect x="34.45" y="348.76" width="6.4" height="1.5" fill="#2a2a3a" />
<rect x="42.55" y="326.78" width="7" height="23.52" fill="#fba142" stroke="#95541a" stroke-width="0.7" />
<line x1="46.05" y1="330.14" x2="46.05" y2="322.58" stroke="#7a4210" stroke-width="0.75" />
<line x1="44.55" y1="322.58" x2="47.55" y2="322.58" stroke="#7a4210" stroke-width="0.75" />
<line x1="44.55" y1="330.14" x2="47.55" y2="330.14" stroke="#7a4210" stroke-width="0.75" />
<rect x="50.95" y="331.82" width="7" height="18.48" fill="#4f9ef8" stroke="#1c4c98" stroke-width="0.7" />
<line x1="54.45" y1="337.7" x2="54.45" y2="324.26" stroke="#1a3f80" stroke-width="0.75" />
<line x1="52.95" y1="324.26" x2="55.95" y2="324.26" stroke="#1a3f80" stroke-width="0.75" />
<line x1="52.95" y1="337.7" x2="55.95" y2="337.7" stroke="#1a3f80" stroke-width="0.75" />
<line x1="77.7" y1="350.3" x2="77.7" y2="352.5" stroke="#6e6e6e" stroke-width="0.8" />
<text x="78.2" y="360" font-size="6.1" text-anchor="middle" font-weight="bold" fill="#111" >3 h</text>
<rect x="66.1" y="348.34" width="6.4" height="1.5" fill="#2a2a3a" />
<rect x="74.2" y="311.66" width="7" height="38.64" fill="#fba142" stroke="#95541a" stroke-width="0.7" />
<line x1="77.7" y1="331.82" x2="77.7" y2="291.5" stroke="#7a4210" stroke-width="0.75" />
<line x1="76.2" y1="291.5" x2="79.2" y2="291.5" stroke="#7a4210" stroke-width="0.75" />
<line x1="76.2" y1="331.82" x2="79.2" y2="331.82" stroke="#7a4210" stroke-width="0.75" />
<rect x="82.6" y="321.74" width="7" height="28.56" fill="#4f9ef8" stroke="#1c4c98" stroke-width="0.7" />
<line x1="86.1" y1="329.3" x2="86.1" y2="313.34" stroke="#1a3f80" stroke-width="0.75" />
<line x1="84.6" y1="313.34" x2="87.6" y2="313.34" stroke="#1a3f80" stroke-width="0.75" />
<line x1="84.6" y1="329.3" x2="87.6" y2="329.3" stroke="#1a3f80" stroke-width="0.75" />
<line x1="109.35" y1="350.3" x2="109.35" y2="352.5" stroke="#6e6e6e" stroke-width="0.8" />
<text x="109.85" y="360" font-size="6.1" text-anchor="middle" font-weight="bold" fill="#111" >6 h</text>
<rect x="97.75" y="348.34" width="6.4" height="1.5" fill="#2a2a3a" />
<rect x="105.85" y="293.18" width="7" height="57.12" fill="#fba142" stroke="#95541a" stroke-width="0.7" />
<line x1="109.35" y1="304.1" x2="109.35" y2="283.1" stroke="#7a4210" stroke-width="0.75" />
<line x1="107.85" y1="283.1" x2="110.85" y2="283.1" stroke="#7a4210" stroke-width="0.75" />
<line x1="107.85" y1="304.1" x2="110.85" y2="304.1" stroke="#7a4210" stroke-width="0.75" />
<rect x="114.25" y="306.62" width="7" height="43.68" fill="#4f9ef8" stroke="#1c4c98" stroke-width="0.7" />
<line x1="117.75" y1="309.14" x2="117.75" y2="304.1" stroke="#1a3f80" stroke-width="0.75" />
<line x1="116.25" y1="304.1" x2="119.25" y2="304.1" stroke="#1a3f80" stroke-width="0.75" />
<line x1="116.25" y1="309.14" x2="119.25" y2="309.14" stroke="#1a3f80" stroke-width="0.75" />
<text x="43.92" y="318.45" font-size="7.4" text-anchor="middle" font-weight="bold" fill="#111">*</text>
<text x="48.17" y="318.45" font-size="7.4" text-anchor="middle" font-weight="bold" fill="#111">*</text>
<text x="54.45" y="324.25" font-size="7.4" text-anchor="middle" font-weight="bold" fill="#111">*</text>
<text x="73.45" y="291.05" font-size="7.4" text-anchor="middle" font-weight="bold" fill="#111">*</text>
<text x="77.7" y="291.05" font-size="7.4" text-anchor="middle" font-weight="bold" fill="#111">*</text>
<text x="81.95" y="291.05" font-size="7.4" text-anchor="middle" font-weight="bold" fill="#111">*</text>
<text x="83.97" y="312.85" font-size="7.4" text-anchor="middle" font-weight="bold" fill="#111">*</text>
<text x="88.22" y="312.85" font-size="7.4" text-anchor="middle" font-weight="bold" fill="#111">*</text>
<text x="105.1" y="282.75" font-size="7.4" text-anchor="middle" font-weight="bold" fill="#111">*</text>
<text x="109.35" y="282.75" font-size="7.4" text-anchor="middle" font-weight="bold" fill="#111">*</text>
<text x="113.6" y="282.75" font-size="7.4" text-anchor="middle" font-weight="bold" fill="#111">*</text>
<text x="113.5" y="303.55" font-size="7.4" text-anchor="middle" font-weight="bold" fill="#111">*</text>
<text x="117.75" y="303.55" font-size="7.4" text-anchor="middle" font-weight="bold" fill="#111">*</text>
<text x="122" y="303.55" font-size="7.4" text-anchor="middle" font-weight="bold" fill="#111">*</text>
<text x="76.5" y="269.2" font-size="7.7" text-anchor="middle" font-weight="bold" fill="#111" >IL1<tspan font-family="Liberation Serif" font-weight="normal" font-size="8.6" style="stroke-width:0.15px">β</tspan></text>
<line x1="146.3" y1="266.3" x2="146.3" y2="350.3" stroke="#6e6e6e" stroke-width="0.8" />
<line x1="146.3" y1="350.3" x2="241.8" y2="350.3" stroke="#6e6e6e" stroke-width="0.8" />
<line x1="144" y1="350.3" x2="146.3" y2="350.3" stroke="#6e6e6e" stroke-width="0.8" />
<text x="142.8" y="352.6" font-size="6.5" text-anchor="end" font-weight="bold" fill="#111" >0</text>
<line x1="144" y1="329.3" x2="146.3" y2="329.3" stroke="#6e6e6e" stroke-width="0.8" />
<text x="142.8" y="331.6" font-size="6.5" text-anchor="end" font-weight="bold" fill="#111" >50</text>
<line x1="144" y1="308.3" x2="146.3" y2="308.3" stroke="#6e6e6e" stroke-width="0.8" />
<text x="142.8" y="310.6" font-size="6.5" text-anchor="end" font-weight="bold" fill="#111" >100</text>
<line x1="144" y1="287.3" x2="146.3" y2="287.3" stroke="#6e6e6e" stroke-width="0.8" />
<text x="142.8" y="289.6" font-size="6.5" text-anchor="end" font-weight="bold" fill="#111" >150</text>
<line x1="144" y1="266.3" x2="146.3" y2="266.3" stroke="#6e6e6e" stroke-width="0.8" />
<text x="142.8" y="268.6" font-size="6.5" text-anchor="end" font-weight="bold" fill="#111" >200</text>
<line x1="162.2" y1="350.3" x2="162.2" y2="352.5" stroke="#6e6e6e" stroke-width="0.8" />
<text x="162.7" y="360" font-size="6.1" text-anchor="middle" font-weight="bold" fill="#111" >1 h</text>
<rect x="150.6" y="349.18" width="6.4" height="1.5" fill="#2a2a3a" />
<rect x="158.7" y="343.58" width="7" height="6.72" fill="#fba142" stroke="#95541a" stroke-width="0.7" />
<line x1="162.2" y1="345.68" x2="162.2" y2="341.48" stroke="#7a4210" stroke-width="0.75" />
<line x1="160.7" y1="341.48" x2="163.7" y2="341.48" stroke="#7a4210" stroke-width="0.75" />
<line x1="160.7" y1="345.68" x2="163.7" y2="345.68" stroke="#7a4210" stroke-width="0.75" />
<rect x="167.1" y="344" width="7" height="6.3" fill="#4f9ef8" stroke="#1c4c98" stroke-width="0.7" />
<line x1="170.6" y1="346.52" x2="170.6" y2="341.9" stroke="#1a3f80" stroke-width="0.75" />
<line x1="169.1" y1="341.9" x2="172.1" y2="341.9" stroke="#1a3f80" stroke-width="0.75" />
<line x1="169.1" y1="346.52" x2="172.1" y2="346.52" stroke="#1a3f80" stroke-width="0.75" />
<line x1="193.85" y1="350.3" x2="193.85" y2="352.5" stroke="#6e6e6e" stroke-width="0.8" />
<text x="194.35" y="360" font-size="6.1" text-anchor="middle" font-weight="bold" fill="#111" >3 h</text>
<rect x="182.25" y="349.18" width="6.4" height="1.5" fill="#2a2a3a" />
<rect x="190.35" y="331.82" width="7" height="18.48" fill="#fba142" stroke="#95541a" stroke-width="0.7" />
<line x1="193.85" y1="333.5" x2="193.85" y2="329.3" stroke="#7a4210" stroke-width="0.75" />
<line x1="192.35" y1="329.3" x2="195.35" y2="329.3" stroke="#7a4210" stroke-width="0.75" />
<line x1="192.35" y1="333.5" x2="195.35" y2="333.5" stroke="#7a4210" stroke-width="0.75" />
<rect x="198.75" y="326.36" width="7" height="23.94" fill="#4f9ef8" stroke="#1c4c98" stroke-width="0.7" />
<line x1="202.25" y1="331.82" x2="202.25" y2="320.06" stroke="#1a3f80" stroke-width="0.75" />
<line x1="200.75" y1="320.06" x2="203.75" y2="320.06" stroke="#1a3f80" stroke-width="0.75" />
<line x1="200.75" y1="331.82" x2="203.75" y2="331.82" stroke="#1a3f80" stroke-width="0.75" />
<line x1="225.5" y1="350.3" x2="225.5" y2="352.5" stroke="#6e6e6e" stroke-width="0.8" />
<text x="226" y="360" font-size="6.1" text-anchor="middle" font-weight="bold" fill="#111" >6 h</text>
<rect x="213.9" y="349.18" width="6.4" height="1.5" fill="#2a2a3a" />
<rect x="222" y="286.46" width="7" height="63.84" fill="#fba142" stroke="#95541a" stroke-width="0.7" />
<line x1="225.5" y1="295.7" x2="225.5" y2="271.76" stroke="#7a4210" stroke-width="0.75" />
<line x1="224" y1="271.76" x2="227" y2="271.76" stroke="#7a4210" stroke-width="0.75" />
<line x1="224" y1="295.7" x2="227" y2="295.7" stroke="#7a4210" stroke-width="0.75" />
<rect x="230.4" y="296.54" width="7" height="53.76" fill="#4f9ef8" stroke="#1c4c98" stroke-width="0.7" />
<line x1="233.9" y1="305.78" x2="233.9" y2="286.46" stroke="#1a3f80" stroke-width="0.75" />
<line x1="232.4" y1="286.46" x2="235.4" y2="286.46" stroke="#1a3f80" stroke-width="0.75" />
<line x1="232.4" y1="305.78" x2="235.4" y2="305.78" stroke="#1a3f80" stroke-width="0.75" />
<text x="191.72" y="329.15" font-size="7.4" text-anchor="middle" font-weight="bold" fill="#111">*</text>
<text x="195.97" y="329.15" font-size="7.4" text-anchor="middle" font-weight="bold" fill="#111">*</text>
<text x="198" y="321.75" font-size="7.4" text-anchor="middle" font-weight="bold" fill="#111">*</text>
<text x="202.25" y="321.75" font-size="7.4" text-anchor="middle" font-weight="bold" fill="#111">*</text>
<text x="206.5" y="321.75" font-size="7.4" text-anchor="middle" font-weight="bold" fill="#111">*</text>
<text x="221.25" y="273.65" font-size="7.4" text-anchor="middle" font-weight="bold" fill="#111">*</text>
<text x="225.5" y="273.65" font-size="7.4" text-anchor="middle" font-weight="bold" fill="#111">*</text>
<text x="229.75" y="273.65" font-size="7.4" text-anchor="middle" font-weight="bold" fill="#111">*</text>
<text x="229.65" y="287.15" font-size="7.4" text-anchor="middle" font-weight="bold" fill="#111">*</text>
<text x="233.9" y="287.15" font-size="7.4" text-anchor="middle" font-weight="bold" fill="#111">*</text>
<text x="238.15" y="287.15" font-size="7.4" text-anchor="middle" font-weight="bold" fill="#111">*</text>
<text x="193.3" y="269.2" font-size="7.7" text-anchor="middle" font-weight="bold" fill="#111" >IL6</text>
<line x1="263.6" y1="266.3" x2="263.6" y2="350.3" stroke="#6e6e6e" stroke-width="0.8" />
<line x1="263.6" y1="350.3" x2="359.1" y2="350.3" stroke="#6e6e6e" stroke-width="0.8" />
<line x1="261.3" y1="350.3" x2="263.6" y2="350.3" stroke="#6e6e6e" stroke-width="0.8" />
<text x="260.1" y="352.6" font-size="6.5" text-anchor="end" font-weight="bold" fill="#111" >0</text>
<line x1="261.3" y1="333.5" x2="263.6" y2="333.5" stroke="#6e6e6e" stroke-width="0.8" />
<text x="260.1" y="335.8" font-size="6.5" text-anchor="end" font-weight="bold" fill="#111" >20</text>
<line x1="261.3" y1="316.7" x2="263.6" y2="316.7" stroke="#6e6e6e" stroke-width="0.8" />
<text x="260.1" y="319" font-size="6.5" text-anchor="end" font-weight="bold" fill="#111" >40</text>
<line x1="261.3" y1="299.9" x2="263.6" y2="299.9" stroke="#6e6e6e" stroke-width="0.8" />
<text x="260.1" y="302.2" font-size="6.5" text-anchor="end" font-weight="bold" fill="#111" >60</text>
<line x1="261.3" y1="283.1" x2="263.6" y2="283.1" stroke="#6e6e6e" stroke-width="0.8" />
<text x="260.1" y="285.4" font-size="6.5" text-anchor="end" font-weight="bold" fill="#111" >80</text>
<line x1="261.3" y1="266.3" x2="263.6" y2="266.3" stroke="#6e6e6e" stroke-width="0.8" />
<text x="260.1" y="268.6" font-size="6.5" text-anchor="end" font-weight="bold" fill="#111" >100</text>
<line x1="279" y1="350.3" x2="279" y2="352.5" stroke="#6e6e6e" stroke-width="0.8" />
<text x="279.5" y="360" font-size="6.1" text-anchor="middle" font-weight="bold" fill="#111" >1 h</text>
<rect x="267.1" y="349.46" width="7" height="0.84" fill="#c3c3fb" stroke="#55559a" stroke-width="0.7" />
<line x1="270.6" y1="349.88" x2="270.6" y2="349.04" stroke="#3c3c78" stroke-width="0.75" />
<line x1="269.1" y1="349.04" x2="272.1" y2="349.04" stroke="#3c3c78" stroke-width="0.75" />
<line x1="269.1" y1="349.88" x2="272.1" y2="349.88" stroke="#3c3c78" stroke-width="0.75" />
<rect x="275.5" y="334.34" width="7" height="15.96" fill="#fba142" stroke="#95541a" stroke-width="0.7" />
<line x1="279" y1="341.9" x2="279" y2="325.1" stroke="#7a4210" stroke-width="0.75" />
<line x1="277.5" y1="325.1" x2="280.5" y2="325.1" stroke="#7a4210" stroke-width="0.75" />
<line x1="277.5" y1="341.9" x2="280.5" y2="341.9" stroke="#7a4210" stroke-width="0.75" />
<rect x="283.9" y="340.22" width="7" height="10.08" fill="#4f9ef8" stroke="#1c4c98" stroke-width="0.7" />
<line x1="287.4" y1="345.26" x2="287.4" y2="335.18" stroke="#1a3f80" stroke-width="0.75" />
<line x1="285.9" y1="335.18" x2="288.9" y2="335.18" stroke="#1a3f80" stroke-width="0.75" />
<line x1="285.9" y1="345.26" x2="288.9" y2="345.26" stroke="#1a3f80" stroke-width="0.75" />
<line x1="310.65" y1="350.3" x2="310.65" y2="352.5" stroke="#6e6e6e" stroke-width="0.8" />
<text x="311.15" y="360" font-size="6.1" text-anchor="middle" font-weight="bold" fill="#111" >3 h</text>
<rect x="298.75" y="349.46" width="7" height="0.84" fill="#c3c3fb" stroke="#55559a" stroke-width="0.7" />
<line x1="302.25" y1="349.88" x2="302.25" y2="349.04" stroke="#3c3c78" stroke-width="0.75" />
<line x1="300.75" y1="349.04" x2="303.75" y2="349.04" stroke="#3c3c78" stroke-width="0.75" />
<line x1="300.75" y1="349.88" x2="303.75" y2="349.88" stroke="#3c3c78" stroke-width="0.75" />
<rect x="307.15" y="310.82" width="7" height="39.48" fill="#fba142" stroke="#95541a" stroke-width="0.7" />
<line x1="310.65" y1="314.18" x2="310.65" y2="306.62" stroke="#7a4210" stroke-width="0.75" />
<line x1="309.15" y1="306.62" x2="312.15" y2="306.62" stroke="#7a4210" stroke-width="0.75" />
<line x1="309.15" y1="314.18" x2="312.15" y2="314.18" stroke="#7a4210" stroke-width="0.75" />
<rect x="315.55" y="299.06" width="7" height="51.24" fill="#4f9ef8" stroke="#1c4c98" stroke-width="0.7" />
<line x1="319.05" y1="308.3" x2="319.05" y2="287.3" stroke="#1a3f80" stroke-width="0.75" />
<line x1="317.55" y1="287.3" x2="320.55" y2="287.3" stroke="#1a3f80" stroke-width="0.75" />
<line x1="317.55" y1="308.3" x2="320.55" y2="308.3" stroke="#1a3f80" stroke-width="0.75" />
<line x1="342.3" y1="350.3" x2="342.3" y2="352.5" stroke="#6e6e6e" stroke-width="0.8" />
<text x="342.8" y="360" font-size="6.1" text-anchor="middle" font-weight="bold" fill="#111" >6 h</text>
<rect x="330.4" y="348.62" width="7" height="1.68" fill="#c3c3fb" stroke="#55559a" stroke-width="0.7" />
<line x1="333.9" y1="349.46" x2="333.9" y2="347.78" stroke="#3c3c78" stroke-width="0.75" />
<line x1="332.4" y1="347.78" x2="335.4" y2="347.78" stroke="#3c3c78" stroke-width="0.75" />
<line x1="332.4" y1="349.46" x2="335.4" y2="349.46" stroke="#3c3c78" stroke-width="0.75" />
<rect x="338.8" y="310.82" width="7" height="39.48" fill="#fba142" stroke="#95541a" stroke-width="0.7" />
<line x1="342.3" y1="335.18" x2="342.3" y2="286.46" stroke="#7a4210" stroke-width="0.75" />
<line x1="340.8" y1="286.46" x2="343.8" y2="286.46" stroke="#7a4210" stroke-width="0.75" />
<line x1="340.8" y1="335.18" x2="343.8" y2="335.18" stroke="#7a4210" stroke-width="0.75" />
<rect x="347.2" y="292.34" width="7" height="57.96" fill="#4f9ef8" stroke="#1c4c98" stroke-width="0.7" />
<line x1="350.7" y1="304.1" x2="350.7" y2="281.42" stroke="#1a3f80" stroke-width="0.75" />
<line x1="349.2" y1="281.42" x2="352.2" y2="281.42" stroke="#1a3f80" stroke-width="0.75" />
<line x1="349.2" y1="304.1" x2="352.2" y2="304.1" stroke="#1a3f80" stroke-width="0.75" />
<text x="306.4" y="300.05" font-size="7.4" text-anchor="middle" font-weight="bold" fill="#111">*</text>
<text x="310.65" y="300.05" font-size="7.4" text-anchor="middle" font-weight="bold" fill="#111">*</text>
<text x="314.9" y="300.05" font-size="7.4" text-anchor="middle" font-weight="bold" fill="#111">*</text>
<text x="314.8" y="283.95" font-size="7.4" text-anchor="middle" font-weight="bold" fill="#111">*</text>
<text x="319.05" y="283.95" font-size="7.4" text-anchor="middle" font-weight="bold" fill="#111">*</text>
<text x="323.3" y="283.95" font-size="7.4" text-anchor="middle" font-weight="bold" fill="#111">*</text>
<text x="338.05" y="286.35" font-size="7.4" text-anchor="middle" font-weight="bold" fill="#111">*</text>
<text x="342.3" y="286.35" font-size="7.4" text-anchor="middle" font-weight="bold" fill="#111">*</text>
<text x="346.55" y="286.35" font-size="7.4" text-anchor="middle" font-weight="bold" fill="#111">*</text>
<text x="346.45" y="277.95" font-size="7.4" text-anchor="middle" font-weight="bold" fill="#111">*</text>
<text x="350.7" y="277.95" font-size="7.4" text-anchor="middle" font-weight="bold" fill="#111">*</text>
<text x="354.95" y="277.95" font-size="7.4" text-anchor="middle" font-weight="bold" fill="#111">*</text>
<text x="310.4" y="269.2" font-size="7.7" text-anchor="middle" font-weight="bold" fill="#111" >TNF<tspan font-family="Liberation Serif" font-weight="normal" font-size="8.6" style="stroke-width:0.15px">α</tspan></text>
<line x1="378.9" y1="266.3" x2="378.9" y2="350.3" stroke="#6e6e6e" stroke-width="0.8" />
<line x1="378.9" y1="350.3" x2="474.4" y2="350.3" stroke="#6e6e6e" stroke-width="0.8" />
<line x1="376.6" y1="350.3" x2="378.9" y2="350.3" stroke="#6e6e6e" stroke-width="0.8" />
<text x="375.4" y="352.6" font-size="6.5" text-anchor="end" font-weight="bold" fill="#111" >0.0</text>
<line x1="376.6" y1="329.3" x2="378.9" y2="329.3" stroke="#6e6e6e" stroke-width="0.8" />
<text x="375.4" y="331.6" font-size="6.5" text-anchor="end" font-weight="bold" fill="#111" >0.5</text>
<line x1="376.6" y1="308.3" x2="378.9" y2="308.3" stroke="#6e6e6e" stroke-width="0.8" />
<text x="375.4" y="310.6" font-size="6.5" text-anchor="end" font-weight="bold" fill="#111" >1.0</text>
<line x1="376.6" y1="287.3" x2="378.9" y2="287.3" stroke="#6e6e6e" stroke-width="0.8" />
<text x="375.4" y="289.6" font-size="6.5" text-anchor="end" font-weight="bold" fill="#111" >1.5</text>
<line x1="376.6" y1="266.3" x2="378.9" y2="266.3" stroke="#6e6e6e" stroke-width="0.8" />
<text x="375.4" y="268.6" font-size="6.5" text-anchor="end" font-weight="bold" fill="#111" >2.0</text>
<line x1="381.4" y1="308.3" x2="474.4" y2="308.3" stroke="#4a4a4a" stroke-width="0.8" stroke-dasharray="0.9 1.6"/>
<line x1="394.7" y1="350.3" x2="394.7" y2="352.5" stroke="#6e6e6e" stroke-width="0.8" />
<text x="395.2" y="360" font-size="6.1" text-anchor="middle" font-weight="bold" fill="#111" >1 h</text>
<rect x="382.8" y="303.26" width="7" height="47.04" fill="#c3c3fb" stroke="#55559a" stroke-width="0.7" />
<line x1="386.3" y1="308.3" x2="386.3" y2="298.22" stroke="#3c3c78" stroke-width="0.75" />
<line x1="384.8" y1="298.22" x2="387.8" y2="298.22" stroke="#3c3c78" stroke-width="0.75" />
<line x1="384.8" y1="308.3" x2="387.8" y2="308.3" stroke="#3c3c78" stroke-width="0.75" />
<rect x="391.2" y="299.9" width="7" height="50.4" fill="#fba142" stroke="#95541a" stroke-width="0.7" />
<line x1="394.7" y1="306.2" x2="394.7" y2="294.02" stroke="#7a4210" stroke-width="0.75" />
<line x1="393.2" y1="294.02" x2="396.2" y2="294.02" stroke="#7a4210" stroke-width="0.75" />
<line x1="393.2" y1="306.2" x2="396.2" y2="306.2" stroke="#7a4210" stroke-width="0.75" />
<rect x="399.6" y="301.58" width="7" height="48.72" fill="#4f9ef8" stroke="#1c4c98" stroke-width="0.7" />
<line x1="403.1" y1="308.3" x2="403.1" y2="295.28" stroke="#1a3f80" stroke-width="0.75" />
<line x1="401.6" y1="295.28" x2="404.6" y2="295.28" stroke="#1a3f80" stroke-width="0.75" />
<line x1="401.6" y1="308.3" x2="404.6" y2="308.3" stroke="#1a3f80" stroke-width="0.75" />
<line x1="426.35" y1="350.3" x2="426.35" y2="352.5" stroke="#6e6e6e" stroke-width="0.8" />
<text x="426.85" y="360" font-size="6.1" text-anchor="middle" font-weight="bold" fill="#111" >3 h</text>
<rect x="414.45" y="303.68" width="7" height="46.62" fill="#c3c3fb" stroke="#55559a" stroke-width="0.7" />
<line x1="417.95" y1="309.14" x2="417.95" y2="298.22" stroke="#3c3c78" stroke-width="0.75" />
<line x1="416.45" y1="298.22" x2="419.45" y2="298.22" stroke="#3c3c78" stroke-width="0.75" />
<line x1="416.45" y1="309.14" x2="419.45" y2="309.14" stroke="#3c3c78" stroke-width="0.75" />
<rect x="422.85" y="310.4" width="7" height="39.9" fill="#fba142" stroke="#95541a" stroke-width="0.7" />
<line x1="426.35" y1="311.24" x2="426.35" y2="309.56" stroke="#7a4210" stroke-width="0.75" />
<line x1="424.85" y1="309.56" x2="427.85" y2="309.56" stroke="#7a4210" stroke-width="0.75" />
<line x1="424.85" y1="311.24" x2="427.85" y2="311.24" stroke="#7a4210" stroke-width="0.75" />
<rect x="431.25" y="314.6" width="7" height="35.7" fill="#4f9ef8" stroke="#1c4c98" stroke-width="0.7" />
<line x1="434.75" y1="319.64" x2="434.75" y2="309.56" stroke="#1a3f80" stroke-width="0.75" />
<line x1="433.25" y1="309.56" x2="436.25" y2="309.56" stroke="#1a3f80" stroke-width="0.75" />
<line x1="433.25" y1="319.64" x2="436.25" y2="319.64" stroke="#1a3f80" stroke-width="0.75" />
<line x1="458" y1="350.3" x2="458" y2="352.5" stroke="#6e6e6e" stroke-width="0.8" />
<text x="458.5" y="360" font-size="6.1" text-anchor="middle" font-weight="bold" fill="#111" >6 h</text>
<rect x="446.1" y="296.12" width="7" height="54.18" fill="#c3c3fb" stroke="#55559a" stroke-width="0.7" />
<line x1="449.6" y1="307.04" x2="449.6" y2="285.2" stroke="#3c3c78" stroke-width="0.75" />
<line x1="448.1" y1="285.2" x2="451.1" y2="285.2" stroke="#3c3c78" stroke-width="0.75" />
<line x1="448.1" y1="307.04" x2="451.1" y2="307.04" stroke="#3c3c78" stroke-width="0.75" />
<rect x="454.5" y="317.96" width="7" height="32.34" fill="#fba142" stroke="#95541a" stroke-width="0.7" />
<line x1="458" y1="321.74" x2="458" y2="313.76" stroke="#7a4210" stroke-width="0.75" />
<line x1="456.5" y1="313.76" x2="459.5" y2="313.76" stroke="#7a4210" stroke-width="0.75" />
<line x1="456.5" y1="321.74" x2="459.5" y2="321.74" stroke="#7a4210" stroke-width="0.75" />
<rect x="462.9" y="314.6" width="7" height="35.7" fill="#4f9ef8" stroke="#1c4c98" stroke-width="0.7" />
<line x1="466.4" y1="321.74" x2="466.4" y2="307.46" stroke="#1a3f80" stroke-width="0.75" />
<line x1="464.9" y1="307.46" x2="467.9" y2="307.46" stroke="#1a3f80" stroke-width="0.75" />
<line x1="464.9" y1="321.74" x2="467.9" y2="321.74" stroke="#1a3f80" stroke-width="0.75" />
<text x="453.75" y="307.95" font-size="7.4" text-anchor="middle" font-weight="bold" fill="#111">*</text>
<text x="458" y="307.95" font-size="7.4" text-anchor="middle" font-weight="bold" fill="#111">*</text>
<text x="462.25" y="307.95" font-size="7.4" text-anchor="middle" font-weight="bold" fill="#111">*</text>
<text x="462.15" y="301.25" font-size="7.4" text-anchor="middle" font-weight="bold" fill="#111">*</text>
<text x="466.4" y="301.25" font-size="7.4" text-anchor="middle" font-weight="bold" fill="#111">*</text>
<text x="470.65" y="301.25" font-size="7.4" text-anchor="middle" font-weight="bold" fill="#111">*</text>
<text x="425.7" y="269.2" font-size="7.7" text-anchor="middle" font-weight="bold" fill="#111" >IL4</text>
<rect x="464.4" y="142.2" width="54.4" height="27.4" fill="#fff" stroke="#5a5a5a" stroke-width="0.9" />
<rect x="468.3" y="146.3" width="10.2" height="3" fill="#c3c3fb" stroke="#55559a" stroke-width="0.8" />
<text x="484.3" y="150.15" font-size="6.5" text-anchor="start" font-weight="bold" fill="#111" >MOPC21</text>
<rect x="468.3" y="154.8" width="10.2" height="3" fill="#fba142" stroke="#95541a" stroke-width="0.8" />
<text x="484.3" y="158.65" font-size="6.5" text-anchor="start" font-weight="bold" fill="#111" >0662</text>
<rect x="468.3" y="163.3" width="10.2" height="3" fill="#4f9ef8" stroke="#1c4c98" stroke-width="0.8" />
<text x="484.3" y="167.15" font-size="6.5" text-anchor="start" font-weight="bold" fill="#111" >dAbd C7</text>
<rect x="464.4" y="258.3" width="54.1" height="27.4" fill="#fff" stroke="#5a5a5a" stroke-width="0.9" />
<rect x="468.3" y="262.5" width="10.2" height="3" fill="#c3c3fb" stroke="#55559a" stroke-width="0.8" />
<text x="484.3" y="266.35" font-size="6.5" text-anchor="start" font-weight="bold" fill="#111" >MOPC21</text>
<rect x="468.3" y="271" width="10.2" height="3" fill="#fba142" stroke="#95541a" stroke-width="0.8" />
<text x="484.3" y="274.85" font-size="6.5" text-anchor="start" font-weight="bold" fill="#111" >0662</text>
<rect x="468.3" y="279.1" width="10.2" height="3" fill="#4f9ef8" stroke="#1c4c98" stroke-width="0.8" />
<text x="484.3" y="282.95" font-size="6.5" text-anchor="start" font-weight="bold" fill="#111" >dAbd C7</text>
<text x="148.5" y="382" font-size="12.4" text-anchor="start" font-weight="bold" fill="#111" style="stroke-width:0.6px">E</text>
<defs><filter id="bl" x="-50%" y="-100%" width="200%" height="300%"><feGaussianBlur stdDeviation="0.7"/></filter><filter id="bl2" x="-50%" y="-100%" width="200%" height="300%"><feGaussianBlur stdDeviation="1.0"/></filter><linearGradient id="gfos" x1="0" y1="0" x2="0" y2="1"><stop offset="0" stop-color="#777"/><stop offset="0.45" stop-color="#333"/><stop offset="1" stop-color="#111"/></linearGradient></defs>
<rect x="219.3" y="408.9" width="75.3" height="87.1" fill="#eaeaea" stroke="#6a6a6a" stroke-width="1.0" />
<rect x="220.8" y="410.5" width="72.3" height="7.5" fill="#f3f3f3" filter="url(#bl2)"/>
<rect x="220.8" y="428" width="72.3" height="5" fill="#f3f3f3" filter="url(#bl2)"/>
<rect x="220.8" y="445" width="72.3" height="7" fill="#f3f3f3" filter="url(#bl2)"/>
<rect x="220.8" y="463" width="72.3" height="5" fill="#f3f3f3" filter="url(#bl2)"/>
<rect x="220.8" y="480.5" width="72.3" height="5.5" fill="#f3f3f3" filter="url(#bl2)"/>
<rect x="219.3" y="424.9" width="75.3" height="2.5" fill="#acacac" />
<rect x="219.3" y="442.1" width="75.3" height="2.4" fill="#acacac" />
<rect x="219.3" y="459.8" width="75.3" height="2.5" fill="#acacac" />
<rect x="219.3" y="476.9" width="75.3" height="2.5" fill="#acacac" />
<text x="152.6" y="420.4" font-size="7.8" font-weight="bold" fill="#111" textLength="62.4" lengthAdjust="spacingAndGlyphs">pSTAT1 (Tyr701)</text>
<text x="296.9" y="420.4" font-size="7.6" text-anchor="start" font-weight="bold" fill="#111" >- 91 KDa</text>
<text x="190.8" y="437.8" font-size="7.8" font-weight="bold" fill="#111" textLength="24.2" lengthAdjust="spacingAndGlyphs">STAT1</text>
<text x="296.9" y="437.8" font-size="7.6" text-anchor="start" font-weight="bold" fill="#111" >- 91 KDa</text>
<text x="215" y="455.4" font-size="7.8" text-anchor="end" font-weight="bold" fill="#111" >c-Fos</text>
<text x="296.9" y="455.4" font-size="7.6" text-anchor="start" font-weight="bold" fill="#111" >- 62 KDa</text>
<text x="215" y="473.2" font-size="7.8" text-anchor="end" font-weight="bold" fill="#111" >c-Jun</text>
<text x="296.9" y="473.2" font-size="7.6" text-anchor="start" font-weight="bold" fill="#111" >- 43 KDa</text>
<text x="215" y="490.6" font-size="7.8" text-anchor="end" font-weight="bold" fill="#111" >GAPDH</text>
<text x="296.9" y="490.6" font-size="7.6" text-anchor="start" font-weight="bold" fill="#111" >- 36 KDa</text>
<text transform="translate(232.3,404.7) rotate(-90)" font-size="7.8" text-anchor="start" font-weight="bold" fill="#111">Control</text>
<text transform="translate(252.3,404.7) rotate(-90)" font-size="7.8" text-anchor="start" font-weight="bold" fill="#111">MOPC21</text>
<text transform="translate(268.9,404.7) rotate(-90)" font-size="7.8" text-anchor="start" font-weight="bold" fill="#111">0662</text>
<text transform="translate(287.7,404.7) rotate(-90)" font-size="7.8" text-anchor="start" font-weight="bold" fill="#111">dAbd C7</text>
<rect x="262" y="415.9" width="11.5" height="2" rx="1.5" fill="#111" fill-opacity="0.75" filter="url(#bl)"/>
<rect x="266.5" y="416" width="7" height="1.8" rx="1.5" fill="#111" fill-opacity="0.5" filter="url(#bl)"/>
<rect x="277.8" y="414.4" width="14.6" height="7.2" rx="3.5" fill="#111" fill-opacity="1.0" filter="url(#bl)"/>
<rect x="223.2" y="433.2" width="13.4" height="2.8" rx="1.5" fill="#111" fill-opacity="0.95" filter="url(#bl)"/>
<rect x="241.3" y="433.2" width="12.7" height="2.8" rx="1.5" fill="#111" fill-opacity="0.95" filter="url(#bl)"/>
<rect x="260" y="433.2" width="13.5" height="2.8" rx="1.5" fill="#111" fill-opacity="0.95" filter="url(#bl)"/>
<rect x="277.5" y="433.2" width="13" height="2.8" rx="1.5" fill="#111" fill-opacity="0.95" filter="url(#bl)"/>
<rect x="245.9" y="453.4" width="11.3" height="3" rx="1.5" fill="#222" fill-opacity="0.8" filter="url(#bl)"/>
<rect x="251" y="453" width="6.2" height="3.6" rx="1.5" fill="#222" fill-opacity="0.4" filter="url(#bl)"/>
<rect x="262.6" y="446.9" width="11.8" height="5.1" rx="2" fill="#3c3c3c" fill-opacity="0.9" filter="url(#bl2)"/>
<rect x="262.2" y="449.8" width="12.5" height="6.9" rx="1.5" fill="#161616" fill-opacity="1.0" filter="url(#bl)"/>
<rect x="279.2" y="449.2" width="13.2" height="3.8" rx="2" fill="#3c3c3c" fill-opacity="0.85" filter="url(#bl2)"/>
<rect x="278.8" y="451" width="13.9" height="5.7" rx="1.5" fill="#1a1a1a" fill-opacity="1.0" filter="url(#bl)"/>
<rect x="248.6" y="469.3" width="8.1" height="1.4" rx="1.5" fill="#333" fill-opacity="0.35" filter="url(#bl)"/>
<rect x="243" y="469.5" width="1.5" height="1" rx="1.5" fill="#111" fill-opacity="0.25" filter="url(#bl)"/>
<rect x="260.5" y="468.4" width="15" height="3.2" rx="1.5" fill="#151515" fill-opacity="0.95" filter="url(#bl)"/>
<rect x="278.2" y="467.8" width="15.1" height="4.5" rx="1.5" fill="#151515" fill-opacity="1.0" filter="url(#bl)"/>
<rect x="221.5" y="487.9" width="15.5" height="4" rx="1.5" fill="#111" fill-opacity="0.95" filter="url(#bl)"/>
<rect x="240.3" y="487.9" width="15.6" height="4" rx="1.5" fill="#111" fill-opacity="0.95" filter="url(#bl)"/>
<rect x="259" y="487.9" width="15.3" height="4" rx="1.5" fill="#111" fill-opacity="0.95" filter="url(#bl)"/>
<rect x="278.1" y="487.9" width="15.4" height="4" rx="1.5" fill="#111" fill-opacity="0.95" filter="url(#bl)"/>
<rect x="241" y="482.8" width="14" height="1.2" rx="1.5" fill="#111" fill-opacity="0.12" filter="url(#bl)"/>
<rect x="241" y="485" width="14" height="1" rx="1.5" fill="#111" fill-opacity="0.1" filter="url(#bl)"/>
<rect x="222" y="483" width="14" height="1.2" rx="1.5" fill="#111" fill-opacity="0.06" filter="url(#bl)"/>
</svg>
</body></html>
